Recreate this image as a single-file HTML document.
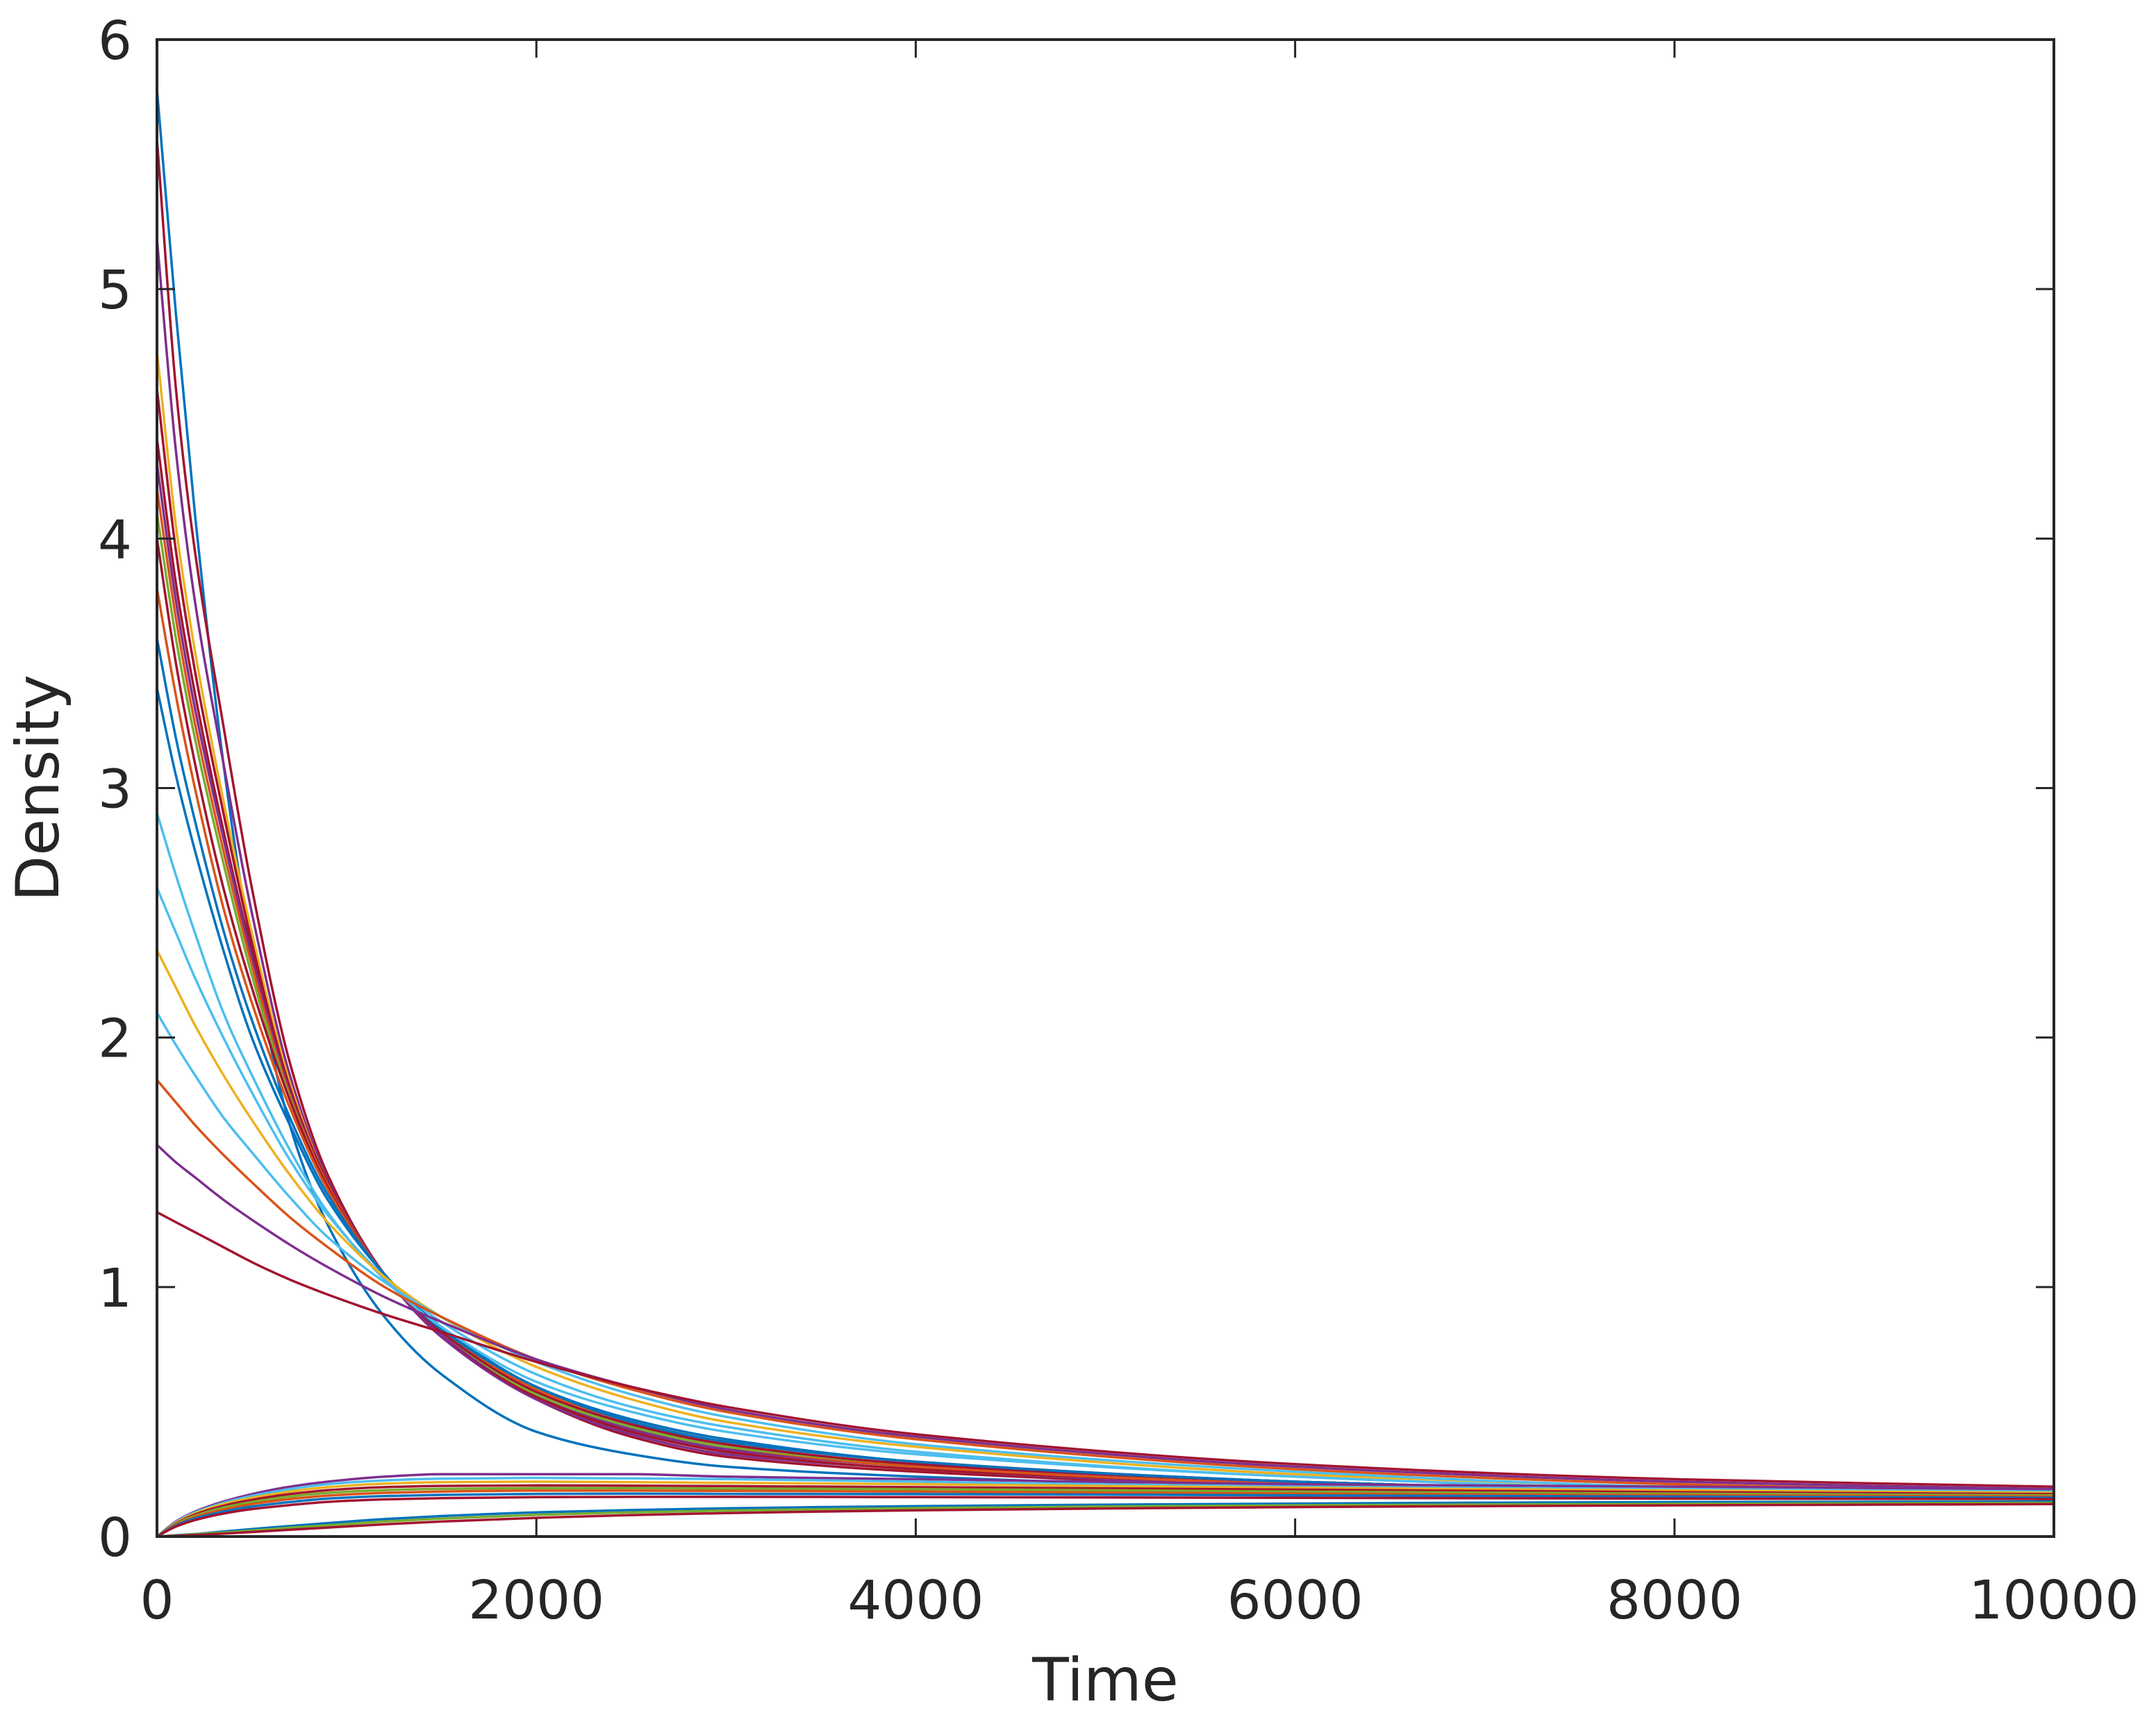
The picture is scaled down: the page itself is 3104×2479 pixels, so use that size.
<!DOCTYPE html>
<html><head><meta charset="utf-8"><style>
html,body{margin:0;padding:0;background:#fff;}
svg{display:block;}
text{font-family:"DejaVu Sans","Liberation Sans",sans-serif;fill:#262626;}
</style></head><body>
<svg id="chart" width="3104" height="2479" viewBox="0 0 3104 2479" xmlns="http://www.w3.org/2000/svg">
<rect x="0" y="0" width="3104" height="2479" fill="#fff"/>
<g id="series"></g>
<g id="axes"></g>
</svg>
<script>
const times = [0,100,200,350,500,700,900,1200,1500,2000,2500,3000,4000,6000,8000,10000];
const xTicks = [0,2000,4000,6000,8000,10000];
const yTicks = [0,1,2,3,4,5,6];
const colors = ["#0072BD","#D95319","#EDB120","#7E2F8E","#77AC30","#4DBEEE","#A2142F"];
const decay01 = [5.8,4.9,4.1,3.1,2.35,1.65,1.25,0.88,0.65,0.42,0.33,0.28,0.24,0.19,0.16,0.15];
const decay02 = [5.6,4.6,3.95,3.25,2.6,1.9,1.45,1.05,0.8,0.55,0.4,0.32,0.26,0.2,0.17,0.15];
const decay03 = [5.2,4.35,3.75,3.1,2.5,1.85,1.43,1.05,0.8,0.55,0.41,0.33,0.27,0.2,0.17,0.15];
const decay04 = [4.75,4.05,3.55,2.95,2.42,1.82,1.42,1.05,0.81,0.56,0.42,0.34,0.27,0.21,0.17,0.15];
const decay05 = [4.6,3.95,3.47,2.9,2.38,1.8,1.42,1.05,0.81,0.56,0.42,0.34,0.27,0.21,0.17,0.15];
const decay06 = [4.4,3.82,3.38,2.83,2.34,1.79,1.41,1.05,0.81,0.56,0.43,0.35,0.28,0.21,0.17,0.15];
const decay07 = [4.3,3.75,3.32,2.8,2.32,1.78,1.41,1.05,0.81,0.57,0.43,0.35,0.28,0.21,0.17,0.15];
const decay08 = [4.2,3.68,3.26,2.75,2.29,1.77,1.41,1.05,0.82,0.57,0.44,0.36,0.28,0.21,0.18,0.16];
const decay09 = [4.1,3.6,3.2,2.7,2.25,1.76,1.4,1.05,0.82,0.57,0.44,0.36,0.29,0.22,0.18,0.16];
const decay10 = [4.0,3.5,3.1,2.6,2.2,1.75,1.4,1.05,0.82,0.58,0.45,0.37,0.29,0.22,0.18,0.16];
const decay11 = [3.8,3.37,3.0,2.52,2.14,1.72,1.39,1.05,0.83,0.59,0.46,0.38,0.3,0.22,0.18,0.16];
const decay12 = [3.6,3.2,2.87,2.43,2.07,1.68,1.37,1.05,0.83,0.6,0.46,0.38,0.3,0.22,0.18,0.16];
const decay13 = [3.4,3.05,2.75,2.35,2.0,1.65,1.35,1.05,0.84,0.6,0.47,0.39,0.3,0.22,0.18,0.16];
const decay14 = [2.9,2.65,2.42,2.1,1.85,1.55,1.3,1.03,0.84,0.62,0.5,0.42,0.33,0.24,0.19,0.17];
const decay15 = [2.6,2.42,2.24,2.0,1.78,1.51,1.29,1.04,0.86,0.65,0.52,0.44,0.34,0.24,0.19,0.17];
const decay16 = [2.35,2.2,2.05,1.85,1.67,1.45,1.26,1.04,0.88,0.68,0.55,0.46,0.36,0.25,0.2,0.17];
const decay17 = [2.1,1.97,1.85,1.68,1.54,1.36,1.2,1.02,0.88,0.7,0.57,0.48,0.37,0.26,0.2,0.18];
const decay18 = [1.83,1.74,1.65,1.53,1.42,1.28,1.16,1.0,0.88,0.71,0.59,0.5,0.39,0.27,0.21,0.18];
const decay19 = [1.57,1.5,1.44,1.35,1.27,1.17,1.08,0.96,0.86,0.71,0.6,0.51,0.4,0.28,0.22,0.19];
const decay20 = [1.3,1.26,1.22,1.16,1.1,1.03,0.97,0.89,0.82,0.7,0.6,0.52,0.41,0.29,0.23,0.2];
const rise01 = [0,0.06,0.1,0.14,0.17,0.2,0.22,0.24,0.25,0.25,0.25,0.24,0.23,0.21,0.2,0.19];
const rise02 = [0,0.058,0.097,0.135,0.163,0.19,0.21,0.225,0.232,0.235,0.233,0.23,0.22,0.2,0.19,0.18];
const rise03 = [0,0.055,0.093,0.13,0.155,0.18,0.198,0.212,0.218,0.22,0.218,0.215,0.21,0.195,0.185,0.175];
const rise04 = [0,0.052,0.088,0.123,0.147,0.17,0.186,0.198,0.203,0.205,0.204,0.202,0.198,0.188,0.178,0.17];
const rise05 = [0,0.05,0.083,0.116,0.138,0.16,0.175,0.186,0.191,0.194,0.194,0.192,0.19,0.18,0.172,0.165];
const rise06 = [0,0.047,0.078,0.108,0.13,0.15,0.164,0.175,0.18,0.184,0.184,0.183,0.18,0.172,0.166,0.16];
const rise07 = [0,0.044,0.072,0.1,0.12,0.138,0.152,0.162,0.167,0.171,0.172,0.171,0.17,0.165,0.16,0.155];
const rise08 = [0,0.04,0.066,0.092,0.11,0.126,0.139,0.149,0.154,0.158,0.159,0.159,0.158,0.155,0.152,0.15];
const rise09 = [0,0.005,0.01,0.02,0.03,0.042,0.054,0.07,0.082,0.097,0.106,0.113,0.122,0.132,0.138,0.14];
const rise10 = [0,0.004,0.009,0.016,0.024,0.035,0.045,0.06,0.072,0.087,0.097,0.104,0.114,0.125,0.131,0.135];
const rise11 = [0,0.003,0.006,0.012,0.018,0.027,0.036,0.049,0.06,0.075,0.086,0.094,0.105,0.118,0.125,0.13];
const seriesList = [decay01,decay02,decay03,decay04,decay05,decay06,decay07,decay08,decay09,decay10,decay11,decay12,decay13,decay14,decay15,decay16,decay17,decay18,decay19,decay20,rise01,rise02,rise03,rise04,rise05,rise06,rise07,rise08,rise09,rise10,rise11];
const seriesColors = [0,6,3,2,6,6,3,1,4,6,1,0,0,5,5,2,5,1,3,6,3,5,2,6,4,1,0,6,0,4,6];

const L=226,R=2957,T=57,B=2212;
const xS=v=>L+(v-0)/(10000-0)*(R-L);
const yS=v=>B-(v-0)/(6-0)*(B-T);
const NS="http://www.w3.org/2000/svg";
const sg=document.getElementById('series');
const ax=document.getElementById('axes');

function pathFor(vals){
  const p=vals.map((v,i)=>[xS(times[i]),yS(v)]);
  const n=p.length, m=[];
  const dx=[],sl=[];
  for(let i=0;i<n-1;i++){dx.push(p[i+1][0]-p[i][0]);sl.push((p[i+1][1]-p[i][1])/dx[i]);}
  for(let i=0;i<n;i++){
    if(i===0)m.push(sl[0]);else if(i===n-1)m.push(sl[n-2]);
    else m.push(sl[i-1]*sl[i]<=0?0:2/(1/sl[i-1]+1/sl[i]));
  }
  let d="M"+p[0][0].toFixed(1)+","+p[0][1].toFixed(1);
  for(let i=0;i<n-1;i++){
    const h=dx[i]/3;
    d+=" C"+(p[i][0]+h).toFixed(1)+","+(p[i][1]+m[i]*h).toFixed(1)+" "+(p[i+1][0]-h).toFixed(1)+","+(p[i+1][1]-m[i+1]*h).toFixed(1)+" "+p[i+1][0].toFixed(1)+","+p[i+1][1].toFixed(1);
  }
  return d;
}
seriesList.forEach((vals,i)=>{
  const el=document.createElementNS(NS,'path');
  el.setAttribute('d',pathFor(vals));
  el.setAttribute('fill','none');
  el.setAttribute('stroke',colors[seriesColors[i]]);
  el.setAttribute('stroke-width','3.5');
  
  
  sg.appendChild(el);
});

const box=document.createElementNS(NS,'rect');
box.setAttribute('x',L);box.setAttribute('y',T);box.setAttribute('width',R-L);box.setAttribute('height',B-T);
box.setAttribute('fill','none');box.setAttribute('stroke','#262626');box.setAttribute('stroke-width','4');


ax.appendChild(box);

function line(x1,y1,x2,y2){const l=document.createElementNS(NS,'line');l.setAttribute('x1',x1);l.setAttribute('y1',y1);l.setAttribute('x2',x2);l.setAttribute('y2',y2);l.setAttribute('stroke','#262626');l.setAttribute('stroke-width','3');return l;}
function txt(x,y,s,anchor,size){const t=document.createElementNS(NS,'text');t.setAttribute('x',x);t.setAttribute('y',y);t.setAttribute('text-anchor',anchor);t.setAttribute('font-size',size);t.textContent=s;return t;}

xTicks.forEach(v=>{
  const x=xS(v);
  const a=line(x,B,x,B-26);
  
  
  ax.appendChild(a);
  const b=line(x,T,x,T+26);
  
  
  ax.appendChild(b);
  const t=txt(x,B+118,String(v),'middle',77);
  
  
  ax.appendChild(t);
});
yTicks.forEach(v=>{
  const y=yS(v);
  const a=line(L,y,L+26,y);
  
  
  ax.appendChild(a);
  const b=line(R,y,R-26,y);
  
  
  ax.appendChild(b);
  const t=txt(L-36,y+28,String(v),'end',77);
  
  
  ax.appendChild(t);
});
const xt=txt((L+R)/2,2448,'Time','middle',86);


ax.appendChild(xt);
const yt=txt(0,0,'Density','middle',86);
yt.setAttribute('transform','translate(84,'+((T+B)/2)+') rotate(-90)');


ax.appendChild(yt);
</script>
</body></html>
